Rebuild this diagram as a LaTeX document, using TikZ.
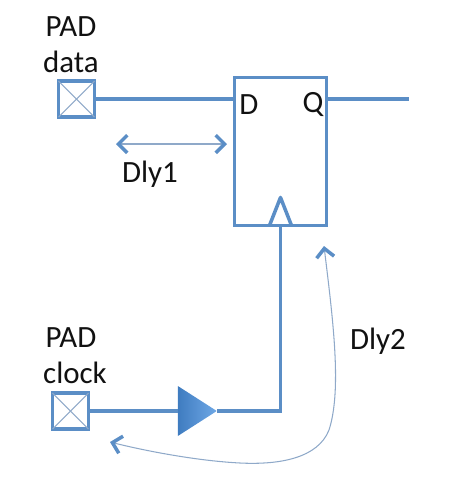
\documentclass[tikz,border=0pt]{standalone}
\usepackage{fontspec}
\setmainfont{Carlito}
\usepackage{xcolor}
\usetikzlibrary{arrows.meta, positioning, shapes.geometric, calc}
\definecolor{WireBlue}{HTML}{5B8EC6}
\definecolor{ThinBlue}{HTML}{8FA9C9}
\definecolor{BufLight}{HTML}{6FA8E6}
\definecolor{BufDark}{HTML}{3F7CC0}
\definecolor{FigInk}{HTML}{111111}

\begin{document}
\begin{tikzpicture}[
    x=0.02cm, y=-0.02cm,
    font=\fontsize{17.6pt}{19pt}\selectfont,
    every node/.style={align=center, text=FigInk},
    wire/.style={draw=WireBlue, line width=2pt},
    padbox/.style={
      draw=WireBlue, line width=2pt, outer sep=0pt,
      minimum width=0.72cm, minimum height=0.72cm, inner sep=0pt,
    },
    padcross/.style={draw=ThinBlue, line width=0.6pt},
    ffbox/.style={
      draw=WireBlue, line width=2pt, outer sep=0pt,
      minimum width=1.84cm, minimum height=2.96cm,
    },
    buffer/.style={
      isosceles triangle, isosceles triangle apex angle=65,
      isosceles triangle stretches, inner sep=0pt, outer sep=0pt,
      minimum width=1cm, minimum height=0.78cm,
      left color=BufLight, right color=BufDark, shading angle=-90,
    },
    dly/.style={
      draw=ThinBlue, line width=0.6pt,
      {Straight Barb[length=5pt, width=10pt, line width=2pt, color=WireBlue]}-{Straight Barb[length=5pt, width=10pt, line width=2pt, color=WireBlue]},
    },
  ]
    \useasboundingbox (0,0) rectangle (474,481);

    \node[padbox] (paddata) at (76.5,99) {};
    \node[padbox] (padclock) at (70.5,411) {};
    \node[ffbox] (ff) at (280.5,151.5) {};
    \node[buffer] (buf) at (191.5,411) {};

    % pad crosses
    \draw[padcross] (paddata.north west) -- (paddata.south east);
    \draw[padcross] (paddata.north east) -- (paddata.south west);
    \draw[padcross] (padclock.north west) -- (padclock.south east);
    \draw[padcross] (padclock.north east) -- (padclock.south west);

    \node (lbpad1) at (71,27) {PAD};
    \node (lbdata) at (71,62) {data};
    \node (lbpad2) at (71,338) {PAD};
    \node (lbclock) at (75,373) {clock};
    \node (lbd) at (249,105) {D};
    \node (lbq) at (313,105) {Q};
    \node (lbdly1) at (150,174) {Dly1};
    \node (lbdly2) at (378,341) {Dly2};

    \coordinate (qout) at (409,99);
    \coordinate (clkl) at ($(ff.south)+(-11,0)$);
    \coordinate (clkr) at ($(ff.south)+(11,0)$);
    \coordinate (clktop) at ($(ff.south)+(0,-28)$);

    \draw[wire] (paddata.east) -- (paddata -| ff.west);
    \draw[wire] (ff.east |- qout) -- (qout);
    \draw[wire, line join=round] (clkl) -- (clktop) -- (clkr);
    \draw[wire] (ff.south) |- (buf.apex);
    \draw[wire] (padclock.east) -- (buf.west |- padclock);

    \coordinate (dly1a) at (116,144);
    \coordinate (dly1b) at (227,144);
    \coordinate (dly2a) at (324,246);
    \coordinate (dly2b) at (110,442);
    \draw[dly] (dly1a) -- (dly1b);
    \draw[dly] (dly2a) .. controls (333,320) and (342,390) .. (329,430)
      .. controls (318,458) and (280,465) .. (240,463)
      .. controls (200,461) and (150,452) .. (dly2b);
  \end{tikzpicture}
\end{document}
